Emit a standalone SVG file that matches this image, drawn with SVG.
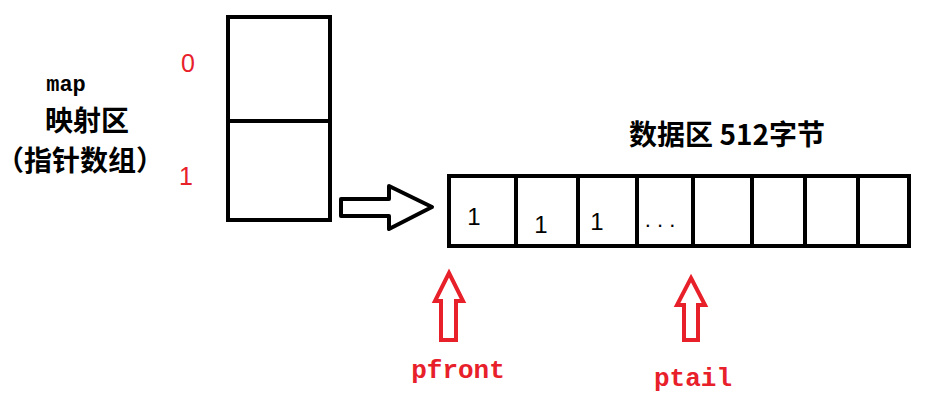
<svg xmlns="http://www.w3.org/2000/svg" width="936" height="402" viewBox="0 0 936 402">
<style>
.box{fill:#fff;stroke:#000;stroke-width:4}
.ln{stroke:#000;stroke-width:4}
.t{font-family:"Liberation Sans","Noto Sans CJK SC",sans-serif;fill:#000}
.cn{font-family:"Noto Sans CJK SC",sans-serif;font-weight:bold;fill:#000;font-size:28px}
.red{fill:#e8202a}
.mono{font-family:"Liberation Mono",monospace;font-size:26px;font-weight:bold}
.rarrow{fill:#fff;stroke:#e8202a;stroke-width:4}
</style>
<g id="map">
<rect class="box" x="228" y="17" width="102" height="203"/>
<line class="ln" x1="228" y1="121" x2="330" y2="121"/>
<text class="t red" x="188" y="72" font-size="25" text-anchor="middle">0</text>
<text class="t red" x="186" y="185" font-size="25" text-anchor="middle">1</text>
</g>
<g id="map-label">
<text x="66" y="91" font-weight="bold" font-size="22" text-anchor="middle" style="font-family:'Liberation Mono',monospace">map</text>
<text class="cn" x="87" y="131" text-anchor="middle">映射区</text>
<text class="cn" x="80" y="171" text-anchor="middle">（指针数组）</text>
</g>
<g id="data">
<rect class="box" x="449" y="176" width="460" height="70"/>
<line class="ln" x1="516" y1="176" x2="516" y2="246"/>
<line class="ln" x1="578" y1="176" x2="578" y2="246"/>
<line class="ln" x1="637" y1="176" x2="637" y2="246"/>
<line class="ln" x1="693" y1="176" x2="693" y2="246"/>
<line class="ln" x1="752" y1="176" x2="752" y2="246"/>
<line class="ln" x1="805" y1="176" x2="805" y2="246"/>
<line class="ln" x1="858" y1="176" x2="858" y2="246"/>
<text class="t" x="474" y="225" font-size="24" text-anchor="middle">1</text>
<text class="t" x="541" y="233" font-size="24" text-anchor="middle">1</text>
<text class="t" x="597" y="230" font-size="24" text-anchor="middle">1</text>
<text class="t" x="660" y="227" font-size="22" text-anchor="middle">. . .</text>
<text class="cn" x="727" y="145" text-anchor="middle">数据区 512字节</text>
</g>
<g id="connectors">
<polygon points="341,199 389,199 389,186 432,207 389,229 389,216 341,216" fill="#fff" stroke="#000" stroke-width="4" stroke-linejoin="round"/>
<polygon class="rarrow" points="449,273 463,301 456,301 456,340 441,340 441,301 435,301"/>
<polygon class="rarrow" points="691,278 705,305 698,305 698,340 684,340 684,305 677,305"/>
</g>
<g id="pointers">
<text class="red mono" x="458" y="378" text-anchor="middle">pfront</text>
<text class="red mono" x="693" y="386" text-anchor="middle">ptail</text>
</g>
</svg>
